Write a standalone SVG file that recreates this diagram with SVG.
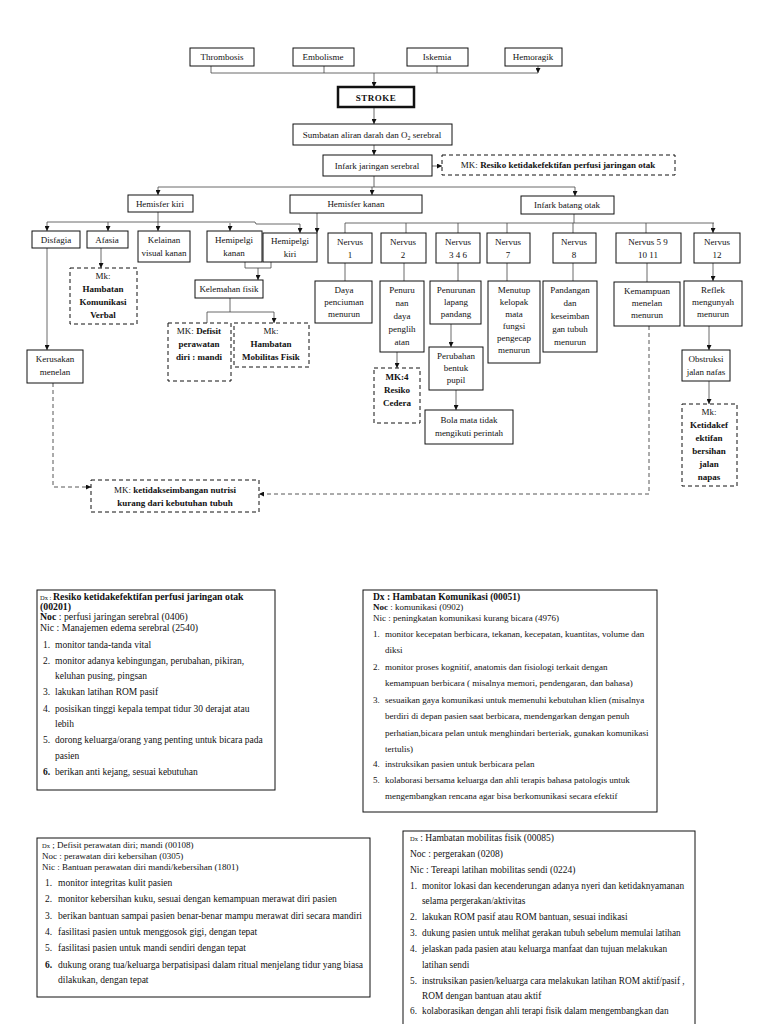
<svg xmlns="http://www.w3.org/2000/svg" width="768" height="1024" viewBox="0 0 768 1024">
<style>
text{font-family:"Liberation Serif","Times New Roman",serif;fill:#111}
.t{font-size:9px;text-anchor:middle}
.b{font-weight:bold}
.box{fill:#fff;stroke:#111;stroke-width:1}
.dash{fill:#fff;stroke:#111;stroke-width:1;stroke-dasharray:4,3}
.c{fill:none;stroke:#444;stroke-width:0.8}
.cd{fill:none;stroke:#444;stroke-width:0.9;stroke-dasharray:4,3}
.p1{font-size:9.5px}
.h1{font-size:9.8px}
.p2{font-size:9px}
.h2{font-size:9.5px}
.p3{font-size:9.5px}
.h3{font-size:9px}
.p4{font-size:9.3px}
.h4{font-size:9.5px}
.s{font-size:6.5px}
</style>
<defs>
<marker id="ah" markerUnits="userSpaceOnUse" markerWidth="5" markerHeight="5" refX="5" refY="2.5" orient="auto">
<path d="M0,0 L5,2.5 L0,5 z" fill="#111"/>
</marker>
</defs>
<rect width="768" height="1024" fill="#fff"/>

<g id="connectors">
<path class="c" d="M211,66 V73 M324,66 V73 M437,66 V73 M538,66 V73" marker-end="url(#ah)"/>
<path class="c" d="M211,73 H538"/>
<path class="c" d="M374,73 V87" marker-end="url(#ah)"/>
<path class="c" d="M374,107 V124" marker-end="url(#ah)"/>
<path class="c" d="M374,145 V155" marker-end="url(#ah)"/>
<path class="c" d="M432,166 H442" marker-end="url(#ah)"/>
<path class="c" d="M374,176 V187 M158,187 H575"/>
<path class="c" d="M158,187 V195" marker-end="url(#ah)"/>
<path class="c" d="M372,187 V195" marker-end="url(#ah)"/>
<path class="c" d="M575,187 V196" marker-end="url(#ah)"/>
<path class="c" d="M158,212 V231" marker-end="url(#ah)"/>
<path class="c" d="M47,222 H255 L256,224 H300"/>
<path class="c" d="M47,222 V231" marker-end="url(#ah)"/>
<path class="c" d="M108,222 V231" marker-end="url(#ah)"/>
<path class="c" d="M230,223 V231" marker-end="url(#ah)"/>
<path class="c" d="M300,224 V233" marker-end="url(#ah)"/>
<path class="c" d="M317,213 V233" marker-end="url(#ah)"/>
<path class="c" d="M574,214 V223 M345,223 H714"/>
<path class="c" d="M345,223 V233 M406,223 V233 M458,223 V233 M507,223 V233 M573,223 V233 M646,223 V233 M713,223 V233" marker-end="url(#ah)"/>
<path class="c" d="M345,263 V281 M404,263 V281 M458,263 V281 M507,263 V281 M573,263 V281 M647,263 V282 M713,263 V281" marker-end="url(#ah)"/>
<path class="c" d="M451,324 V347" marker-end="url(#ah)"/>
<path class="c" d="M456,390 V410" marker-end="url(#ah)"/>
<path class="c" d="M397,352 V368" marker-end="url(#ah)"/>
<path class="c" d="M709,326 V350" marker-end="url(#ah)"/>
<path class="c" d="M709,381 V404" marker-end="url(#ah)"/>
<path class="c" d="M101,248 V268" marker-end="url(#ah)"/>
<path class="c" d="M47,248 V350" marker-end="url(#ah)"/>
<path class="c" d="M245,262 V268 H271 V262"/>
<path class="c" d="M258,268 V280" marker-end="url(#ah)"/>
<path class="c" d="M230,298 V312 M207,312 H274"/>
<path class="c" d="M207,312 V323 M274,312 V323" marker-end="url(#ah)"/>
<path class="cd" d="M53,383 V487 H91" marker-end="url(#ah)"/>
<path class="cd" d="M649,326 V494 H259" marker-end="url(#ah)"/>
</g>

<g id="thrombosis"><rect class="box" x="190" y="48" width="64" height="18"/><text class="t" x="222" y="60">Thrombosis</text></g>
<g id="embolisme"><rect class="box" x="293" y="48" width="61" height="18"/><text class="t" x="323" y="60">Embolisme</text></g>
<g id="iskemia"><rect class="box" x="407" y="48" width="61" height="18"/><text class="t" x="437" y="60">Iskemia</text></g>
<g id="hemoragik"><rect class="box" x="505" y="48" width="57" height="18"/><text class="t" x="533" y="60">Hemoragik</text></g>
<g id="stroke"><rect x="338" y="87" width="76" height="20" fill="#fff" stroke="#111" stroke-width="2.5"/><text class="t b" x="376" y="101" letter-spacing="0.5">STROKE</text></g>
<g id="sumbatan"><rect class="box" x="293" y="124" width="159" height="21"/><text class="t" x="372" y="138">Sumbatan aliran darah dan O<tspan font-size="6" dy="2">2</tspan><tspan dy="-2"> serebral</tspan></text></g>
<g id="infark-jaringan"><rect class="box" x="323" y="155" width="109" height="21"/><text class="t" x="377" y="169">Infark jaringan serebral</text></g>
<g id="mk-perfusi"><rect class="dash" x="442" y="155" width="233" height="20"/><text class="t" x="558" y="168"><tspan>MK: </tspan><tspan class="b">Resiko ketidakefektifan perfusi jaringan otak</tspan></text></g>
<g id="hemisfer-kiri"><rect class="box" x="128" y="195" width="65" height="17"/><text class="t" x="160" y="207">Hemisfer kiri</text></g>
<g id="hemisfer-kanan"><rect class="box" x="290" y="195" width="132" height="18"/><text class="t" x="356" y="207">Hemisfer kanan</text></g>
<g id="infark-batang"><rect class="box" x="521" y="196" width="93" height="18"/><text class="t" x="567" y="208">Infark batang otak</text></g>

<g id="disfagia"><rect class="box" x="32" y="231" width="48" height="17"/><text class="t" x="56" y="243">Disfagia</text></g>
<g id="afasia"><rect class="box" x="87" y="231" width="41" height="17"/><text class="t" x="107" y="243">Afasia</text></g>
<g id="kelainan"><rect class="box" x="138" y="231" width="52" height="31"/><text class="t" x="164" y="243">Kelainan</text><text class="t" x="164" y="256">visual kanan</text></g>
<g id="hemipelgi-kanan"><rect class="box" x="207" y="231" width="55" height="31"/><text class="t" x="234" y="243">Hemipelgi</text><text class="t" x="234" y="256">kanan</text></g>
<g id="hemipelgi-kiri"><rect class="box" x="263" y="233" width="54" height="29"/><text class="t" x="290" y="244">Hemipelgi</text><text class="t" x="290" y="257">kiri</text></g>
<g id="nervus1"><rect class="box" x="328" y="233" width="44" height="30"/><text class="t" x="350" y="245">Nervus</text><text class="t" x="350" y="258">1</text></g>
<g id="nervus2"><rect class="box" x="381" y="233" width="45" height="30"/><text class="t" x="403" y="245">Nervus</text><text class="t" x="403" y="258">2</text></g>
<g id="nervus346"><rect class="box" x="436" y="233" width="44" height="30"/><text class="t" x="458" y="245">Nervus</text><text class="t" x="458" y="258">3 4 6</text></g>
<g id="nervus7"><rect class="box" x="487" y="233" width="43" height="30"/><text class="t" x="508" y="245">Nervus</text><text class="t" x="508" y="258">7</text></g>
<g id="nervus8"><rect class="box" x="553" y="233" width="43" height="30"/><text class="t" x="574" y="245">Nervus</text><text class="t" x="574" y="258">8</text></g>
<g id="nervus591011"><rect class="box" x="616" y="233" width="65" height="30"/><text class="t" x="648" y="245">Nervus 5 9</text><text class="t" x="648" y="258">10 11</text></g>
<g id="nervus12"><rect class="box" x="694" y="233" width="46" height="30"/><text class="t" x="717" y="245">Nervus</text><text class="t" x="717" y="258">12</text></g>

<g id="mk-komunikasi"><rect class="dash" x="70" y="268" width="67" height="56"/><text class="t" x="103" y="279">Mk:</text><text class="t b" x="103" y="292">Hambatan</text><text class="t b" x="103" y="305">Komunikasi</text><text class="t b" x="103" y="318">Verbal</text></g>
<g id="kerusakan"><rect class="box" x="27" y="350" width="56" height="33"/><text class="t" x="55" y="362">Kerusakan</text><text class="t" x="55" y="375">menelan</text></g>
<g id="kelemahan"><rect class="box" x="195" y="280" width="68" height="18"/><text class="t" x="229" y="292">Kelemahan fisik</text></g>
<g id="mk-defisit"><rect class="dash" x="168" y="323" width="63" height="58"/><text class="t" x="199" y="334"><tspan>MK: </tspan><tspan class="b">Defisit</tspan></text><text class="t b" x="199" y="347">perawatan</text><text class="t b" x="199" y="360">diri : mandi</text></g>
<g id="mk-mobilitas"><rect class="dash" x="234" y="323" width="75" height="44"/><text class="t" x="271" y="334">Mk:</text><text class="t b" x="271" y="347">Hambatan</text><text class="t b" x="271" y="360">Mobilitas Fisik</text></g>

<g id="daya-penciuman"><rect class="box" x="315" y="281" width="57" height="42"/><text class="t" x="344" y="293">Daya</text><text class="t" x="344" y="305">penciuman</text><text class="t" x="344" y="317">menurun</text></g>
<g id="penurunan-penglihatan"><rect class="box" x="380" y="281" width="44" height="71"/><text class="t" x="402" y="293">Penuru</text><text class="t" x="402" y="306">nan</text><text class="t" x="402" y="319">daya</text><text class="t" x="402" y="332">penglih</text><text class="t" x="402" y="345">atan</text></g>
<g id="lapang-pandang"><rect class="box" x="430" y="281" width="51" height="43"/><text class="t" x="456" y="293">Penurunan</text><text class="t" x="456" y="305">lapang</text><text class="t" x="456" y="317">pandang</text></g>
<g id="menutup-kelopak"><rect class="box" x="488" y="281" width="52" height="82"/><text class="t" x="514" y="293">Menutup</text><text class="t" x="514" y="305">kelopak</text><text class="t" x="514" y="317">mata</text><text class="t" x="514" y="329">fungsi</text><text class="t" x="514" y="341">pengecap</text><text class="t" x="514" y="353">menurun</text></g>
<g id="pandangan"><rect class="box" x="543" y="281" width="54" height="71"/><text class="t" x="570" y="293">Pandangan</text><text class="t" x="570" y="306">dan</text><text class="t" x="570" y="319">keseimban</text><text class="t" x="570" y="332">gan tubuh</text><text class="t" x="570" y="345">menurun</text></g>
<g id="kemampuan-menelan"><rect class="box" x="614" y="282" width="66" height="44"/><text class="t" x="647" y="294">Kemampuan</text><text class="t" x="647" y="306">menelan</text><text class="t" x="647" y="318">menurun</text></g>
<g id="reflek"><rect class="box" x="684" y="281" width="58" height="45"/><text class="t" x="713" y="293">Reflek</text><text class="t" x="713" y="305">mengunyah</text><text class="t" x="713" y="317">menurun</text></g>
<g id="obstruksi"><rect class="box" x="682" y="350" width="48" height="31"/><text class="t" x="706" y="362">Obstruksi</text><text class="t" x="706" y="375">jalan nafas</text></g>
<g id="mk-bersihan"><rect class="dash" x="682" y="404" width="55" height="82"/><text class="t" x="709" y="415">Mk:</text><text class="t b" x="709" y="428">Ketidakef</text><text class="t b" x="709" y="441">ektifan</text><text class="t b" x="709" y="454">bersihan</text><text class="t b" x="709" y="467">jalan</text><text class="t b" x="709" y="480">napas</text></g>
<g id="perubahan-pupil"><rect class="box" x="429" y="347" width="54" height="43"/><text class="t" x="456" y="359">Perubahan</text><text class="t" x="456" y="371">bentuk</text><text class="t" x="456" y="383">pupil</text></g>
<g id="bola-mata"><rect class="box" x="425" y="410" width="88" height="34"/><text class="t" x="469" y="423">Bola mata tidak</text><text class="t" x="469" y="436">mengikuti perintah</text></g>
<g id="mk-cedera"><rect class="dash" x="374" y="368" width="46" height="55"/><text class="t b" x="397" y="380">MK:4</text><text class="t b" x="397" y="393">Resiko</text><text class="t b" x="397" y="406">Cedera</text></g>
<g id="mk-nutrisi"><rect class="dash" x="91" y="480" width="168" height="32"/><text class="t" x="175" y="493"><tspan>MK: </tspan><tspan class="b">ketidakseimbangan nutrisi</tspan></text><text class="t b" x="175" y="506">kurang dari kebutuhan tubuh</text></g>

<g id="dx-perfusi">
<rect class="box" x="37" y="590" width="238" height="200"/>
<text class="h1" x="40" y="600"><tspan class="s">Dx : </tspan><tspan class="b">Resiko ketidakefektifan perfusi jaringan otak</tspan></text>
<text class="h1 b" x="40" y="610">(00201)</text>
<text class="h1" x="40" y="620"><tspan class="b">Noc</tspan> : perfusi jaringan serebral (0406)</text>
<text class="h1" x="40" y="631">Nic : Manajemen edema serebral (2540)</text>
<text class="p1" x="43" y="648">1.</text><text class="p1" x="55" y="648">monitor tanda-tanda vital</text>
<text class="p1" x="43" y="664">2.</text><text class="p1" x="55" y="664">monitor adanya kebingungan, perubahan, pikiran,</text>
<text class="p1" x="55" y="679">keluhan pusing, pingsan</text>
<text class="p1" x="43" y="695">3.</text><text class="p1" x="55" y="695">lakukan latihan ROM pasif</text>
<text class="p1" x="43" y="712">4.</text><text class="p1" x="55" y="712">posisikan tinggi kepala tempat tidur 30 derajat atau</text>
<text class="p1" x="55" y="727">lebih</text>
<text class="p1" x="43" y="743">5.</text><text class="p1" x="55" y="743">dorong keluarga/orang yang penting untuk bicara pada</text>
<text class="p1" x="55" y="759">pasien</text>
<text class="p1 b" x="43" y="775">6.</text><text class="p1" x="55" y="775">berikan anti kejang, sesuai kebutuhan</text>
</g>

<g id="dx-komunikasi">
<rect class="box" x="363" y="590" width="294" height="222"/>
<text class="h2 b" x="373" y="600">Dx : Hambatan  Komunikasi (00051)</text>
<text class="p2" x="373" y="610"><tspan class="b">Noc</tspan> : komunikasi (0902)</text>
<text class="p2" x="373" y="621">Nic : peningkatan komunikasi kurang bicara (4976)</text>
<text class="p2" x="373" y="637">1.</text><text class="p2" x="385" y="637">monitor kecepatan berbicara, tekanan, kecepatan, kuantitas, volume dan</text>
<text class="p2" x="385" y="653">diksi</text>
<text class="p2" x="373" y="670">2.</text><text class="p2" x="385" y="670">monitor proses kognitif, anatomis dan fisiologi terkait dengan</text>
<text class="p2" x="385" y="686">kemampuan berbicara ( misalnya memori, pendengaran, dan bahasa)</text>
<text class="p2" x="373" y="703">3.</text><text class="p2" x="385" y="703">sesuaikan gaya komunikasi untuk memenuhi kebutuhan klien (misalnya</text>
<text class="p2" x="385" y="719">berdiri di depan pasien saat berbicara, mendengarkan dengan penuh</text>
<text class="p2" x="385" y="736">perhatian,bicara pelan untuk menghindari berteriak, gunakan komunikasi</text>
<text class="p2" x="385" y="752">tertulis)</text>
<text class="p2" x="373" y="767">4.</text><text class="p2" x="385" y="767">instruksikan pasien untuk berbicara pelan</text>
<text class="p2" x="373" y="783">5.</text><text class="p2" x="385" y="783">kolaborasi bersama keluarga dan ahli terapis bahasa patologis untuk</text>
<text class="p2" x="385" y="799">mengembangkan rencana agar bisa berkomunikasi secara efektif</text>
</g>

<g id="dx-defisit">
<rect class="box" x="37" y="838" width="333" height="159"/>
<text class="h3" x="42" y="848"><tspan class="s">Dx</tspan> ; Defisit perawatan diri; mandi (00108)</text>
<text class="h3" x="42" y="859">Noc :  perawatan diri kebersihan (0305)</text>
<text class="h3" x="42" y="870">Nic : Bantuan perawatan diri mandi/kebersihan (1801)</text>
<text class="p3" x="45" y="886">1.</text><text class="p3" x="58" y="886">monitor integritas kulit pasien</text>
<text class="p3" x="45" y="902">2.</text><text class="p3" x="58" y="902">monitor kebersihan kuku, sesuai dengan kemampuan merawat diri pasien</text>
<text class="p3" x="45" y="919">3.</text><text class="p3" x="58" y="919">berikan bantuan sampai pasien benar-benar mampu merawat diri secara mandiri</text>
<text class="p3" x="45" y="935">4.</text><text class="p3" x="58" y="935">fasilitasi pasien untuk menggosok gigi, dengan tepat</text>
<text class="p3" x="45" y="951">5.</text><text class="p3" x="58" y="951">fasilitasi pasien untuk mandi sendiri dengan tepat</text>
<text class="p3 b" x="45" y="968">6.</text><text class="p3" x="58" y="968">dukung orang tua/keluarga berpatisipasi dalam ritual menjelang tidur yang biasa</text>
<text class="p3" x="58" y="983">dilakukan, dengan tepat</text>
</g>

<g id="dx-mobilitas">
<rect class="box" x="403" y="831" width="292" height="200"/>
<text class="h4" x="410" y="841"><tspan class="s">Dx</tspan> : Hambatan mobilitas fisik (00085)</text>
<text class="h4" x="410" y="857">Noc : pergerakan (0208)</text>
<text class="h4" x="410" y="873">Nic :  Tereapi latihan mobilitas sendi (0224)</text>
<text class="p4" x="410" y="889">1.</text><text class="p4" x="422" y="889">monitor lokasi dan kecenderungan adanya nyeri dan ketidaknyamanan</text>
<text class="p4" x="422" y="904">selama pergerakan/aktivitas</text>
<text class="p4" x="410" y="920">2.</text><text class="p4" x="422" y="920">lakukan ROM pasif atau ROM bantuan, sesuai indikasi</text>
<text class="p4" x="410" y="936">3.</text><text class="p4" x="422" y="936">dukung pasien untuk melihat gerakan tubuh sebelum memulai latihan</text>
<text class="p4" x="410" y="952">4.</text><text class="p4" x="422" y="952">jelaskan pada pasien atau keluarga manfaat dan tujuan melakukan</text>
<text class="p4" x="422" y="968">latihan sendi</text>
<text class="p4" x="410" y="984">5.</text><text class="p4" x="422" y="984">instruksikan pasien/keluarga cara melakukan latihan ROM aktif/pasif ,</text>
<text class="p4" x="422" y="999">ROM dengan bantuan atau aktif</text>
<text class="p4" x="410" y="1014">6.</text><text class="p4" x="422" y="1014">kolaborasikan dengan ahli terapi fisik dalam mengembangkan dan</text>
</g>
</svg>
